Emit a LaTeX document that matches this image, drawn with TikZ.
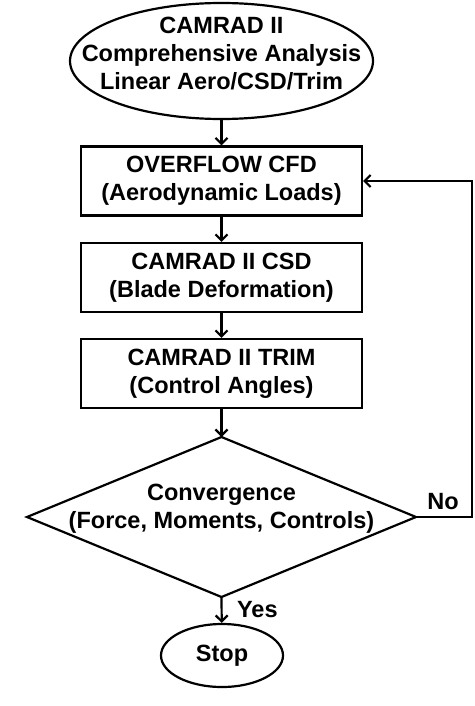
\documentclass[tikz,border=0pt]{standalone}
\usepackage{fontspec}
\setmainfont{Liberation Sans}
\usetikzlibrary{shapes.geometric,arrows.meta}

\begin{document}
\begin{tikzpicture}[x=1pt,y=1pt,line width=2.2pt,
  >={Straight Barb[length=6pt,width=12pt]},
  txt/.style={font=\bfseries\fontsize{23.5}{28}\selectfont,align=center,inner sep=0pt},
  blk/.style={txt,draw,rectangle,minimum width=281pt,minimum height=69pt},
  oval/.style={txt,draw,ellipse}]
\useasboundingbox (0,0) rectangle (474,-706);
% start
\node[oval,minimum width=303pt,minimum height=116pt] (camrad) at (221.5,-61) {};
\node[txt] (camradtxt) at (221.5,-54) {CAMRAD II\\Comprehensive Analysis\\Linear Aero/CSD/Trim};
% loop
\node[blk] (cfd) at (221.5,-181) {OVERFLOW CFD\\(Aerodynamic Loads)};
\node[blk] (csd) at (221.5,-277.5) {CAMRAD II CSD\\(Blade Deformation)};
\node[blk] (trim) at (221.5,-373.5) {CAMRAD II TRIM\\(Control Angles)};
% decision
\coordinate (dtop) at (221.5,-437);
\coordinate (dright) at (416,-517);
\coordinate (dbot) at (221.5,-597);
\coordinate (dleft) at (27,-517);
\draw (dtop)--(dright)--(dbot)--(dleft)--cycle;
\node[txt] (conv) at (221.5,-509) {Convergence\\(Force, Moments, Controls)};
\node[oval,minimum width=122pt,minimum height=63pt] (stop) at (222,-655.5) {Stop};
\node[txt] (no) at (443,-502) {No};
\node[txt,anchor=west] (yes) at (236,-610) {Yes};
\coordinate (fb) at (472,-517);
% arrows
\draw[->] (camrad)--(cfd);
\draw[->] (cfd)--(csd);
\draw[->] (csd)--(trim);
\draw[->] (trim)--(dtop);
\draw[->] (dbot)--(stop);
\draw[->] (dright)--(fb)|-(cfd.east);
\end{tikzpicture}
\end{document}
